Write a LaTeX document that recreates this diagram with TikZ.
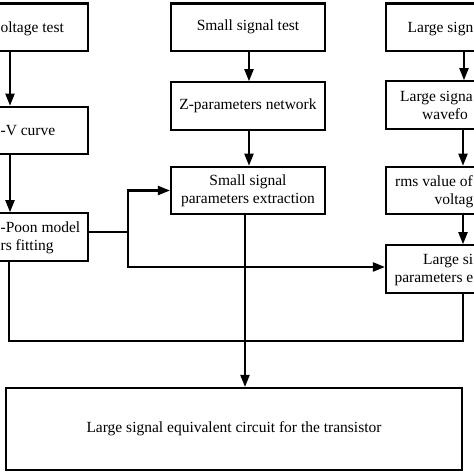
\documentclass[tikz,border=0pt]{standalone}
\usepackage{fontspec}
\setmainfont{Liberation Serif}
\usetikzlibrary{arrows.meta}
\begin{document}
\begin{tikzpicture}[x=1pt,y=-1pt,
  box/.style={draw, line width=2.1pt, minimum width=154pt, minimum height=47.5pt, inner sep=0pt, align=center, font=\fontsize{15.5}{18}\selectfont},
  txt/.style={inner sep=0pt, font=\fontsize{15.5}{18}\selectfont},
  conn/.style={line width=2.1pt},
  arr/.style={conn, -{Triangle[length=12pt,width=9pt]}}]
\useasboundingbox (0,0) rectangle (474,474);
\clip (0,0) rectangle (474,474);
% left column
\node[box] (B1) at (11,27.25) {};
\node[box] (B2) at (11,130.5) {};
\node[box] (B3) at (11,237) {};
\node[txt, anchor=base west] (t1) at (0.4,32) {oltage test};
\node[txt, anchor=base west] (t2) at (0.4,135.5) {-V curve};
\node[txt, anchor=base west] (t3a) at (0.4,232.5) {-Poon model};
\node[txt, anchor=base west] (t3b) at (0.4,250.5) {rs fitting};
% middle column
\node[box] (M1) at (248,27.25) {Small signal test};
\node[box] (M2) at (248,106) {Z-parameters network};
\node[box] (M3) at (248,190.5) {Small signal\\parameters extraction};
% right column
\node[box] (R1) at (463,27.25) {};
\node[box] (R2) at (463,105) {};
\node[box] (R3) at (463,190.5) {};
\node[box] (R4) at (463,269) {};
\node[txt, anchor=base east] (r1) at (473.5,32) {Large sign};
\node[txt, anchor=base west] (r2a) at (400,101) {Large signa};
\node[txt, anchor=base west] (r2b) at (422,119) {wavefo};
\node[txt, anchor=base west] (r3a) at (395,186) {rms value of};
\node[txt, anchor=base east] (r3b) at (473.5,204) {voltag};
\node[txt, anchor=base east] (r4a) at (473.5,264) {Large si};
\node[txt, anchor=base east] (r4b) at (473.5,282) {parameters e};
% bottom
\node[box, minimum width=456pt, minimum height=82pt] (Big) at (234,429) {Large signal equivalent circuit for the transistor};
% connectors
\draw[arr] ([xshift=-1pt]B1.south) -- ([xshift=-1pt]B2.north);
\draw[arr] ([xshift=-1pt]B2.south) -- ([xshift=-1pt]B3.north);
\draw[arr] ([xshift=1pt]M1.south) -- ([xshift=1pt]M2.north);
\draw[arr] ([xshift=1pt]M2.south) -- ([xshift=1pt]M3.north);
\draw[arr] ([xshift=1pt]R1.south) -- ([xshift=1pt]R2.north);
\draw[arr] (R2) -- (R3);
\draw[arr] (R3) -- (R4);
\coordinate (sp) at (128,232);
\coordinate (jn) at (245,341);
\draw[conn] ([yshift=5pt]B3.east) -- (sp);
\draw[arr] (sp) |- (M3.west);
\draw[arr] (sp) |- ([yshift=2pt]R4.west);
\draw[conn] ([xshift=-2pt]B3.south) |- (R4.south |- jn) -- (R4.south);
\draw[arr] ([xshift=-3pt]M3.south) -- ([xshift=-3pt]M3.south |- Big.north);
\end{tikzpicture}
\end{document}
